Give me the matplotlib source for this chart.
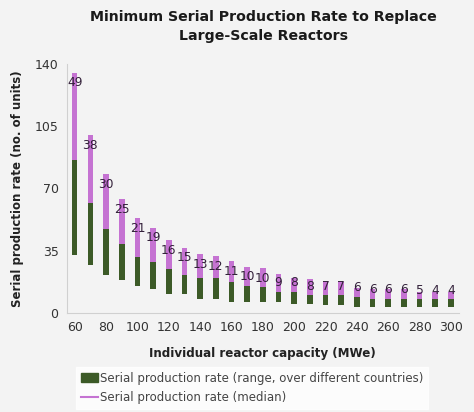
import numpy as np
import matplotlib
matplotlib.use("Agg")
import matplotlib.pyplot as plt
from matplotlib.patches import Patch
from matplotlib.lines import Line2D

# reactor capacity (MWe)
capacity = list(range(60, 301, 10))
# green range (low / high), pink top, median label
range_low = [32.6, 27.3, 21.3, 18.5, 15.2, 13.3, 10.5, 10.5, 8.2, 8.2, 6.4, 6.4, 6.4,
             6.4, 5.4, 5.4, 4.5, 4.5, 3.2, 3.2, 3.2, 3.2, 3.2, 3.2, 3.2]
range_high = [86, 61.6, 47.5, 38.8, 31.6, 28.7, 24.9, 21.5, 19.5, 19.5, 17.4, 15.3, 14.4,
              12, 12, 10.1, 10.1, 10.1, 9.2, 8.2, 8.2, 8.2, 7.7, 7.7, 7.7]
pink_top = [135, 100, 78, 64, 53.2, 48, 40.8, 36.7, 33, 32, 29, 26, 25.1,
            21.9, 20, 18.9, 17.2, 17.2, 13.9, 13.3, 13.3, 13.3, 12, 12, 12]
median = [49, 38, 30, 25, 21, 19, 16, 15, 13, 12, 11, 10, 10,
          9, 8, 8, 7, 7, 6, 6, 6, 6, 5, 4, 4]

green = "#3c5a27"
pink = "#c573d2"
bg = "#f3f3f3"

x = np.array(capacity)
low = np.array(range_low)
high = np.array(range_high)
top = np.array(pink_top)

fig = plt.figure(figsize=(4.74, 4.12), dpi=100, facecolor=bg)
ax = fig.add_axes([0.141, 0.24, 0.827, 0.605])
ax.set_facecolor(bg)

ax.bar(x, top - high, bottom=high, width=3.6, color=pink, zorder=2)
ax.bar(x, high - low, bottom=low, width=3.6, color=green, zorder=3)

# label sits just under the pink top, but never down into the green part
label_y = np.maximum(top - 5.6, high + 5.1)
for xi, yi, m in zip(x, label_y, median):
    ax.text(xi, yi, str(m), ha="center", va="center", fontsize=8.8,
            color="#33213a", zorder=4)

ax.set_xlim(55, 305)
ax.set_ylim(0, 140)
ax.set_xticks(range(60, 301, 20))
ax.set_yticks([0, 35, 70, 105, 140])
ax.tick_params(length=0, labelsize=9, colors="#333333", pad=6)
for s in ["top", "right"]:
    ax.spines[s].set_visible(False)
for s in ["left", "bottom"]:
    ax.spines[s].set_color("#d0d0d0")

ax.set_xlabel("Individual reactor capacity (MWe)", fontsize=8.6, fontweight="bold",
              color="#222222", labelpad=9)
ax.set_ylabel("Serial production rate (no. of units)", fontsize=8.5, fontweight="bold",
              color="#222222", labelpad=8)

fig.text(0.556, 0.975, "Minimum Serial Production Rate to Replace\nLarge-Scale Reactors",
         ha="center", va="top", fontsize=10.2, fontweight="bold", color="#1a1a1a",
         linespacing=1.4)

handles = [Patch(color=green), Line2D([], [], color=pink, lw=1.5)]
labels = ["Serial production rate (range, over different countries)",
          "Serial production rate (median)"]
leg = fig.legend(handles, labels, loc="lower center", bbox_to_anchor=(0.532, 0.005),
                 frameon=True, fontsize=8.5, handlelength=1.4, handletextpad=0.2,
                 labelspacing=0.55, borderaxespad=0.1, fancybox=False)
leg.get_frame().set_facecolor("white")
leg.get_frame().set_edgecolor("white")
for t in leg.get_texts():
    t.set_color("#444444")

fig.savefig("out.png", dpi=100, facecolor=bg)
